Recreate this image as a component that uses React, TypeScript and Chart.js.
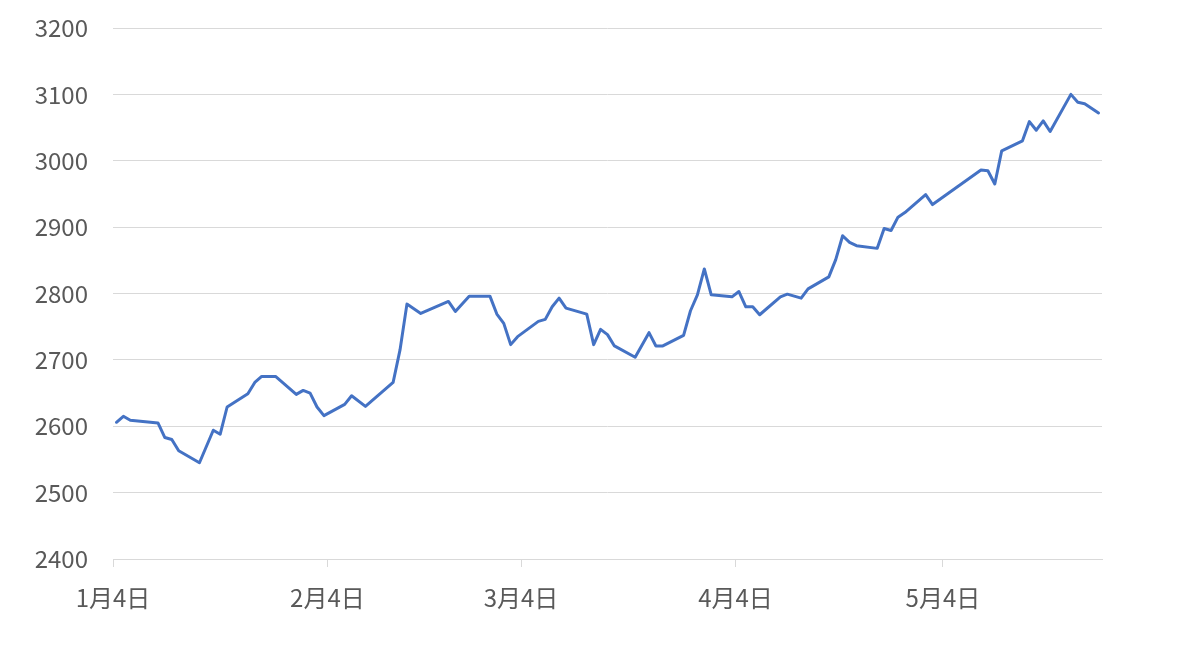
import { useEffect, useRef } from "react";
import { Chart, registerables } from "chart.js";

Chart.register(...registerables);

// days counted from 1月4日 (day 0)
const days = [
  0, 1, 2, 6, 7, 8, 9, 12, 14, 15, 16, 19, 20, 21, 23, 26, 27, 28, 29, 30,
  33, 34, 36, 40, 41, 42, 44, 48, 49, 51, 54, 55, 56, 57, 58, 61, 62, 63, 64, 65,
  68, 69, 70, 71, 72, 75, 77, 78, 79, 82, 83, 84, 85, 86, 89, 90, 91, 92, 93, 96,
  97, 99, 100, 103, 104, 105, 106, 107, 110, 111, 112, 113, 114, 117, 118, 125, 126, 127, 128, 131,
  132, 133, 134, 135, 138, 139, 140, 142,
];

const values = [
  2606, 2615, 2609, 2605, 2583, 2580, 2563, 2545, 2594, 2588, 2629, 2649, 2666, 2675, 2675, 2648, 2654, 2650, 2629, 2616,
  2633, 2646, 2630, 2666, 2715, 2784, 2770, 2788, 2773, 2796, 2796, 2769, 2755, 2723, 2735, 2758, 2761, 2780, 2793, 2778,
  2769, 2723, 2746, 2738, 2721, 2704, 2741, 2721, 2721, 2737, 2774, 2798, 2837, 2798, 2795, 2803, 2780, 2780, 2768, 2795,
  2799, 2793, 2807, 2825, 2851, 2887, 2877, 2872, 2868, 2898, 2895, 2915, 2922, 2949, 2934, 2986, 2985, 2965, 3015, 3030,
  3059, 3046, 3060, 3044, 3100, 3088, 3086, 3072,
];

const tickDays = [0, 31, 59, 90, 120];
const tickLabels = ["1月4日", "2月4日", "3月4日", "4月4日", "5月4日"];

const lastDay = 142;

const textColor = "#595959";
const gridColor = "#D9D9D9";
const font = { family: "'Noto Sans CJK JP', 'Noto Sans', sans-serif", size: 24 };

function App() {
  const canvasRef = useRef<HTMLCanvasElement | null>(null);

  useEffect(() => {
    if (!canvasRef.current) return;
    const ctx = canvasRef.current.getContext("2d");
    if (!ctx) return;

    // each day sits in the middle of its own slot, like a date axis in Excel
    const points = days.map((d, i) => ({ x: d, y: values[i] }));

    const chart = new Chart(ctx, {
      type: "line",
      data: {
        datasets: [
          {
            data: points,
            borderColor: "#4472C4",
            borderWidth: 3,
            borderJoinStyle: "round",
            borderCapStyle: "round",
            pointRadius: 0,
            tension: 0,
            fill: false,
          },
        ],
      },
      options: {
        animation: false,
        responsive: true,
        maintainAspectRatio: false,
        layout: { padding: { top: 28, right: 90, left: 0, bottom: 0 } },
        plugins: {
          legend: { display: false },
          tooltip: { enabled: false },
        },
        scales: {
          x: {
            type: "linear",
            min: -0.5,
            max: lastDay + 0.5,
            afterBuildTicks: (scale) => {
              scale.ticks = tickDays.map((d) => ({ value: d - 0.5 }));
            },
            afterFit: (scale) => {
              scale.height = 88;
            },
            grid: {
              drawOnChartArea: false,
              drawTicks: true,
              tickLength: 8,
              color: gridColor,
            },
            border: { color: gridColor },
            ticks: {
              padding: 16,
              color: textColor,
              font,
              maxRotation: 0,
              autoSkip: false,
              callback: (v) => {
                const i = tickDays.indexOf(Math.round(Number(v) + 0.5));
                return i >= 0 ? tickLabels[i] : "";
              },
            },
          },
          y: {
            min: 2400,
            max: 3200,
            afterFit: (scale) => {
              scale.width = 113;
              // the label padding should not push the plot down
              scale.paddingTop = 0;
              scale.paddingBottom = 0;
            },
            grid: { color: gridColor, drawTicks: false },
            border: { display: false },
            ticks: {
              stepSize: 100,
              padding: 25,
              color: textColor,
              font,
              callback: (v) => String(v),
            },
          },
        },
      },
    });

    return () => {
      chart.destroy();
    };
  }, []);

  return (
    <div
      style={{
        position: "fixed",
        left: 0,
        top: 0,
        width: 1192,
        height: 647,
        background: "#ffffff",
      }}
    >
      <canvas ref={canvasRef} />
    </div>
  );
}

export default App;
